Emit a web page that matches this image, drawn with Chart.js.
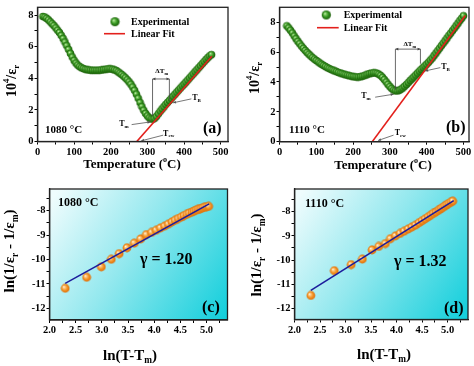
<!DOCTYPE html>
<html>
<head>
<meta charset="utf-8">
<script src="https://cdn.jsdelivr.net/npm/chart.js@4.4.1/dist/chart.umd.min.js"></script>
<style>
  body { margin: 0; background: #fff; }
  #wrap { position: relative; width: 474px; height: 366px; overflow: hidden; }
  canvas { position: absolute; }
</style>
</head>
<body>
<div id="wrap">
  <canvas id="chartA" width="237" height="180" style="left:0;top:0;width:237px;height:180px"></canvas>
  <canvas id="chartB" width="237" height="180" style="left:237px;top:0;width:237px;height:180px"></canvas>
  <canvas id="chartC" width="237" height="186" style="left:0;top:180px;width:237px;height:186px"></canvas>
  <canvas id="chartD" width="237" height="186" style="left:237px;top:180px;width:237px;height:186px"></canvas>
</div>
<script>
// (a) 1080 °C : 10^4/eps_r vs temperature
const tempA = [
  15, 20, 25, 30, 35, 40, 45, 50, 55, 60,
  65, 70, 75, 80, 85, 90, 95, 100, 105, 110,
  115, 120, 125, 130, 135, 140, 145, 150, 155, 160,
  165, 170, 175, 180, 185, 190, 195, 200, 205, 210,
  215, 220, 225, 230, 235, 240, 245, 250, 255, 260,
  265, 270, 275, 280, 285, 290, 295, 300, 305, 310,
  315, 320, 325, 330, 335, 340, 345, 350, 355, 360,
  365, 370, 375, 380, 385, 390, 395, 400, 405, 410,
  415, 420, 425, 430, 435, 440, 445, 450, 455, 460,
  465, 470, 475
];
const invEpsA = [
  7.92, 7.88, 7.80, 7.70, 7.58, 7.46, 7.34, 7.20, 7.05, 6.90,
  6.72, 6.52, 6.30, 6.07, 5.83, 5.58, 5.35, 5.14, 4.97, 4.84,
  4.74, 4.67, 4.62, 4.58, 4.55, 4.53, 4.52, 4.51, 4.51, 4.51,
  4.51, 4.52, 4.53, 4.55, 4.57, 4.59, 4.60, 4.60, 4.58, 4.54,
  4.49, 4.41, 4.33, 4.24, 4.14, 4.03, 3.91, 3.78, 3.63, 3.45,
  3.24, 3.00, 2.74, 2.47, 2.21, 1.98, 1.78, 1.62, 1.50, 1.43,
  1.42, 1.48, 1.60, 1.76, 1.92, 2.06, 2.20, 2.34, 2.47, 2.60,
  2.73, 2.86, 2.99, 3.12, 3.25, 3.38, 3.51, 3.63, 3.76, 3.89,
  4.02, 4.15, 4.28, 4.41, 4.54, 4.67, 4.80, 4.93, 5.06, 5.19,
  5.31, 5.42, 5.50
];
const fitTempA = [271, 476];
const fitInvA = [0, 5.40];

// (b) 1110 °C
const tempB = [
  20, 25, 30, 35, 40, 45, 50, 55, 60, 65,
  70, 75, 80, 85, 90, 95, 100, 105, 110, 115,
  120, 125, 130, 135, 140, 145, 150, 155, 160, 165,
  170, 175, 180, 185, 190, 195, 200, 205, 210, 215,
  220, 225, 230, 235, 240, 245, 250, 255, 260, 265,
  270, 275, 280, 285, 290, 295, 300, 305, 310, 315,
  320, 325, 330, 335, 340, 345, 350, 355, 360, 365,
  370, 375, 380, 385, 390, 395, 400, 405, 410, 415,
  420, 425, 430, 435, 440, 445, 450, 455, 460, 465,
  470, 475, 480, 485, 490, 495, 500
];
const invEpsB = [
  7.76, 7.62, 7.46, 7.28, 7.08, 6.90, 6.72, 6.56, 6.40, 6.25,
  6.11, 5.98, 5.86, 5.74, 5.63, 5.53, 5.44, 5.35, 5.26, 5.18,
  5.10, 5.03, 4.96, 4.90, 4.84, 4.79, 4.74, 4.69, 4.64, 4.60,
  4.56, 4.52, 4.48, 4.45, 4.42, 4.39, 4.36, 4.34, 4.33, 4.33,
  4.35, 4.38, 4.42, 4.47, 4.52, 4.56, 4.59, 4.61, 4.61, 4.58,
  4.52, 4.43, 4.31, 4.16, 4.00, 3.84, 3.69, 3.56, 3.46, 3.41,
  3.40, 3.44, 3.51, 3.60, 3.71, 3.83, 3.96, 4.09, 4.21, 4.33,
  4.46, 4.59, 4.72, 4.84, 4.96, 5.07, 5.19, 5.32, 5.46, 5.60,
  5.76, 5.93, 6.09, 6.26, 6.43, 6.60, 6.76, 6.93, 7.10, 7.26,
  7.43, 7.60, 7.76, 7.93, 8.10, 8.26, 8.43
];
const fitTempB = [252, 505];
const fitInvB = [0, 8.45];

// (c) ln(1/eps_r - 1/eps_m) vs ln(T - Tm), 1080 °C
const lnDtC = [
  2.30, 2.71, 2.99, 3.18, 3.33, 3.48, 3.62, 3.74, 3.85, 3.95,
  4.04, 4.12, 4.20, 4.27, 4.34, 4.40, 4.46, 4.52, 4.57, 4.62,
  4.67, 4.72, 4.76, 4.80, 4.84, 4.88, 4.92, 4.96, 5.00, 5.04
];
const lnEpsC = [
  -11.18, -10.73, -10.30, -9.99, -9.76, -9.52, -9.33, -9.16, -8.98, -8.89,
  -8.80, -8.71, -8.63, -8.55, -8.46, -8.39, -8.32, -8.26, -8.20, -8.15,
  -8.10, -8.06, -8.02, -7.98, -7.95, -7.92, -7.89, -7.86, -7.84, -7.82
];
const fitLnDtC = [2.30, 5.05];
const fitLnEpsC = [-10.98, -7.72];

// (d) 1110 °C
const lnDtD = [
  2.32, 2.78, 3.11, 3.33, 3.52, 3.65, 3.78, 3.88, 3.98, 4.07,
  4.15, 4.23, 4.30, 4.37, 4.44, 4.50, 4.56, 4.62, 4.67, 4.72,
  4.77, 4.82, 4.86, 4.90, 4.94, 4.98, 5.02, 5.06, 5.10
];
const lnEpsD = [
  -11.46, -10.44, -10.19, -9.96, -9.58, -9.44, -9.32, -9.12, -9.00, -8.90,
  -8.81, -8.72, -8.64, -8.56, -8.46, -8.38, -8.30, -8.22, -8.15, -8.08,
  -8.02, -7.95, -7.89, -7.84, -7.78, -7.72, -7.67, -7.62, -7.57
];
const fitLnDtD = [2.32, 5.12];
const fitLnEpsD = [-11.25, -7.55];

// tick positions
const tempTicks = [0, 50, 100, 150, 200, 250, 300, 350, 400, 450, 500];
const invTicks = [0, 1, 2, 3, 4, 5, 6, 7, 8];
const lnXTicks = [2.0, 2.25, 2.5, 2.75, 3.0, 3.25, 3.5, 3.75, 4.0, 4.25, 4.5, 4.75, 5.0, 5.25];
const lnYTicks = [-12, -11.5, -11, -10.5, -10, -9.5, -9, -8.5, -8, -7.5];

const serif = "'Liberation Serif', 'Times New Roman', serif";
const RED = '#e3201c';
const BLUE = '#1c1c9c';

function zip(xs, ys) {
  return xs.map((x, i) => ({ x: x, y: ys[i] }));
}

function makeBall(r, stops) {
  const c = document.createElement('canvas');
  const s = Math.ceil(r * 2) + 1;
  c.width = s; c.height = s;
  const g = c.getContext('2d');
  const m = s / 2;
  const grad = g.createRadialGradient(m - r * 0.35, m - r * 0.35, 0, m, m, r);
  stops.forEach(st => grad.addColorStop(st[0], st[1]));
  g.fillStyle = grad;
  g.beginPath();
  g.arc(m, m, r, 0, Math.PI * 2);
  g.fill();
  return c;
}

const greenStops = [[0, '#eaffe2'], [0.22, '#86cf68'], [0.6, '#349420'], [1, '#1b5c08']];
const orangeStops = [[0, '#fffaf0'], [0.28, '#fcc67e'], [0.62, '#f39222'], [1, '#dc6e0c']];
const greenBall = makeBall(3.8, greenStops);
const greenBallBig = makeBall(4.6, greenStops);
const orangeBall = makeBall(4.4, orangeStops);

// text with sub/superscripts, parts = [[text, 'sub'|'sup'|undefined], ...]
function rich(ctx, parts, x, y, size, opts) {
  opts = opts || {};
  const small = size * 0.62;
  const font = s => 'bold ' + s + 'px ' + serif;
  let w = 0;
  parts.forEach(p => { ctx.font = font(p[1] ? small : size); w += ctx.measureText(p[0]).width; });
  ctx.save();
  ctx.translate(x, y);
  if (opts.rotate) ctx.rotate(-Math.PI / 2);
  let cx = opts.align === 'left' ? 0 : -w / 2;
  ctx.textBaseline = 'middle';
  ctx.textAlign = 'left';
  ctx.fillStyle = '#000';
  parts.forEach(p => {
    ctx.font = font(p[1] ? small : size);
    const dy = p[1] === 'sub' ? size * 0.32 : (p[1] === 'sup' ? -size * 0.36 : 0);
    ctx.fillText(p[0], cx, dy);
    cx += ctx.measureText(p[0]).width;
  });
  ctx.restore();
}

function px(chart, x, y) {
  return [chart.scales.x.getPixelForValue(x), chart.scales.y.getPixelForValue(y)];
}

function seg(ctx, x1, y1, x2, y2, color, width) {
  ctx.save();
  ctx.strokeStyle = color;
  ctx.lineWidth = width;
  ctx.beginPath();
  ctx.moveTo(x1, y1);
  ctx.lineTo(x2, y2);
  ctx.stroke();
  ctx.restore();
}

function head(ctx, x1, y1, x2, y2, color) {
  const ang = Math.atan2(y2 - y1, x2 - x1);
  const L = 3.2;
  ctx.save();
  ctx.fillStyle = color;
  ctx.beginPath();
  ctx.moveTo(x2, y2);
  ctx.lineTo(x2 - L * Math.cos(ang - 0.45), y2 - L * Math.sin(ang - 0.45));
  ctx.lineTo(x2 - L * Math.cos(ang + 0.45), y2 - L * Math.sin(ang + 0.45));
  ctx.closePath();
  ctx.fill();
  ctx.restore();
}

// arrow in data coordinates
function arrow(chart, x1, y1, x2, y2) {
  const a = px(chart, x1, y1), b = px(chart, x2, y2);
  seg(chart.ctx, a[0], a[1], b[0], b[1], '#555', 0.8);
  head(chart.ctx, a[0], a[1], b[0], b[1], '#555');
}

function bracket(chart, xl, yl, xr, yr, ytop) {
  const ctx = chart.ctx;
  const l0 = px(chart, xl, yl), l1 = px(chart, xl, ytop);
  const r0 = px(chart, xr, yr), r1 = px(chart, xr, ytop);
  seg(ctx, l0[0], l0[1], l1[0], l1[1], '#444', 0.8);
  seg(ctx, r0[0], r0[1], r1[0], r1[1], '#444', 0.8);
  seg(ctx, l1[0], l1[1], r1[0], r1[1], '#444', 0.8);
  head(ctx, r1[0], r1[1], l1[0], l1[1], '#444');
  head(ctx, l1[0], l1[1], r1[0], r1[1], '#444');
}

function tlabel(chart, x, y, parts, size) {
  const p = px(chart, x, y);
  rich(chart.ctx, parts, p[0], p[1], size);
}

function frame(ctx, a) {
  ctx.save();
  ctx.strokeStyle = '#222';
  ctx.lineWidth = 1.3;
  ctx.strokeRect(a.left, a.top, a.right - a.left, a.bottom - a.top);
  ctx.restore();
}

function tickFont() {
  return { family: serif, weight: 'bold', size: 10.5 };
}

function axis(min, max, ticks, fmt, fitSize, isX) {
  return {
    type: 'linear',
    min: min,
    max: max,
    afterBuildTicks: s => { s.ticks = ticks.map(v => ({ value: v })); },
    afterFit: s => { if (isX) s.height = fitSize; else s.width = fitSize; },
    ticks: { color: '#000', font: tickFont(), padding: 1, maxRotation: 0, autoSkip: false, callback: fmt },
    grid: { drawOnChartArea: false, drawTicks: true, tickLength: 3, color: '#000', lineWidth: 1 },
    border: { color: '#222', width: 1.3 }
  };
}

const fmtTemp = v => (v % 100 === 0 ? String(v) : '');
const fmtInv = v => (v % 2 === 0 ? String(v) : '');
const fmtLnX = v => (Math.abs(v * 2 - Math.round(v * 2)) < 1e-6 ? v.toFixed(1) : '');
const fmtLnY = v => (Number.isInteger(v) ? String(v) : '');

function makePanel(id, cfg) {
  return new Chart(document.getElementById(id), {
    type: 'scatter',
    data: {
      datasets: [
        {
          label: 'Linear Fit',
          data: zip(cfg.fitX, cfg.fitY),
          showLine: true,
          borderColor: cfg.lineColor,
          borderWidth: 1.6,
          pointRadius: 0,
          order: 0
        },
        {
          label: 'Experimental',
          data: zip(cfg.x, cfg.y),
          pointStyle: cfg.ball,
          pointRadius: 4,
          order: 1
        }
      ]
    },
    options: {
      responsive: false,
      animation: false,
      events: [],
      layout: { autoPadding: false, padding: cfg.padding },
      plugins: { legend: { display: false }, tooltip: { enabled: false } },
      scales: {
        x: axis(cfg.xmin, cfg.xmax, cfg.xticks, cfg.xfmt, cfg.xh, true),
        y: axis(cfg.ymin, cfg.ymax, cfg.yticks, cfg.yfmt, cfg.yw, false)
      }
    },
    plugins: [{
      id: 'deco',
      beforeDraw(chart) {
        if (!cfg.gradient) return;
        const a = chart.chartArea, ctx = chart.ctx;
        const g = ctx.createLinearGradient(a.left, a.top + (a.bottom - a.top) * 0.1, a.right, a.bottom);
        g.addColorStop(0, '#effcfd');
        g.addColorStop(0.45, '#92e8ee');
        g.addColorStop(1, '#10cedb');
        ctx.save();
        ctx.fillStyle = g;
        ctx.fillRect(a.left, a.top, a.right - a.left, a.bottom - a.top);
        ctx.restore();
      },
      afterDraw(chart) {
        frame(chart.ctx, chart.chartArea);
        cfg.deco(chart, chart.ctx);
      }
    }]
  });
}

makePanel('chartA', {
  x: tempA, y: invEpsA, fitX: fitTempA, fitY: fitInvA,
  ball: greenBall, lineColor: RED,
  xmin: 0, xmax: 520, ymin: 0, ymax: 8.5,
  xticks: tempTicks, yticks: invTicks, xfmt: fmtTemp, yfmt: fmtInv,
  padding: { left: 0, right: 9, top: 3, bottom: 0 }, xh: 38.5, yw: 37.5,
  deco(chart, ctx) {
    ctx.drawImage(greenBallBig, 115 - greenBallBig.width / 2, 21.7 - greenBallBig.height / 2);
    rich(ctx, [['Experimental']], 131, 22, 10, { align: 'left' });
    seg(ctx, 104, 33.7, 125, 33.7, RED, 1.6);
    rich(ctx, [['Linear Fit']], 131, 34, 10, { align: 'left' });
    bracket(chart, 314, 1.62, 360, 2.65, 3.96);
    tlabel(chart, 339, 4.45, [['\u0394T'], ['m', 'sub']], 7);
    arrow(chart, 257, 1.07, 308, 1.24);
    tlabel(chart, 236, 1.11, [['T'], ['m', 'sub']], 8);
    arrow(chart, 343, 0.40, 283, 0.04);
    tlabel(chart, 358, 0.50, [['T'], ['cw', 'sub']], 8);
    arrow(chart, 420, 2.70, 370, 2.45);
    tlabel(chart, 434, 2.75, [['T'], ['B', 'sub']], 8);
    rich(ctx, [['1080 \u00b0C']], 45, 130, 11, { align: 'left' });
    rich(ctx, [['(a)']], 203, 129, 16, { align: 'left' });
    rich(ctx, [['Temperature ('], ['o', 'sup'], ['C)']], 132, 165, 13);
    rich(ctx, [['10'], ['4', 'sup'], ['/\u03b5'], ['r', 'sub']], 12, 81, 14, { rotate: true });
  }
});

makePanel('chartB', {
  x: tempB, y: invEpsB, fitX: fitTempB, fitY: fitInvB,
  ball: greenBall, lineColor: RED,
  xmin: 0, xmax: 515, ymin: 0, ymax: 9,
  xticks: tempTicks, yticks: invTicks, xfmt: fmtTemp, yfmt: fmtInv,
  padding: { left: 0, right: 5, top: 4, bottom: 0 }, xh: 38.3, yw: 42.5,
  deco(chart, ctx) {
    ctx.drawImage(greenBallBig, 89.3 - greenBallBig.width / 2, 15 - greenBallBig.height / 2);
    rich(ctx, [['Experimental']], 106.7, 15, 10, { align: 'left' });
    seg(ctx, 80, 27.7, 101.7, 27.7, RED, 1.6);
    rich(ctx, [['Linear Fit']], 106.7, 28, 10, { align: 'left' });
    bracket(chart, 315, 3.48, 383, 5.22, 6.2);
    tlabel(chart, 354, 6.52, [['\u0394T'], ['m', 'sub']], 7);
    arrow(chart, 260, 2.98, 310, 3.18);
    tlabel(chart, 235, 3.05, [['T'], ['m', 'sub']], 8);
    arrow(chart, 310, 0.44, 268, 0.08);
    tlabel(chart, 328, 0.59, [['T'], ['cw', 'sub']], 8);
    arrow(chart, 437, 4.96, 396, 4.74);
    tlabel(chart, 451, 5.0, [['T'], ['B', 'sub']], 8);
    rich(ctx, [['1110 \u00b0C']], 52, 130, 11, { align: 'left' });
    rich(ctx, [['(b)']], 209, 128, 16, { align: 'left' });
    rich(ctx, [['Temperature ('], ['o', 'sup'], ['C)']], 146, 166, 13);
    rich(ctx, [['10'], ['4', 'sup'], ['/\u03b5'], ['r', 'sub']], 18, 78, 14, { rotate: true });
  }
});

makePanel('chartC', {
  x: lnDtC, y: lnEpsC, fitX: fitLnDtC, fitY: fitLnEpsC,
  ball: orangeBall, lineColor: BLUE, gradient: true,
  xmin: 2.0, xmax: 5.4, ymin: -12.48, ymax: -7.11,
  xticks: lnXTicks, yticks: lnYTicks, xfmt: fmtLnX, yfmt: fmtLnY,
  padding: { left: 0, right: 9.5, top: 9, bottom: 0 }, xh: 46, yw: 49.5,
  deco(chart, ctx) {
    rich(ctx, [['1080 \u00b0C']], 58, 23, 12, { align: 'left' });
    rich(ctx, [['(c)']], 202, 128, 16, { align: 'left' });
    rich(ctx, [['\u03b3 = 1.20']], 140, 80, 16, { align: 'left' });
    rich(ctx, [['ln(T-T'], ['m', 'sub'], [')']], 130, 176, 15);
    rich(ctx, [['ln(1/\u03b5'], ['r', 'sub'], [' - 1/\u03b5'], ['m', 'sub'], [')']], 10.5, 71, 15, { rotate: true });
  }
});

makePanel('chartD', {
  x: lnDtD, y: lnEpsD, fitX: fitLnDtD, fitY: fitLnEpsD,
  ball: orangeBall, lineColor: BLUE, gradient: true,
  xmin: 2.0, xmax: 5.4, ymin: -12.45, ymax: -7.07,
  xticks: lnXTicks, yticks: lnYTicks, xfmt: fmtLnX, yfmt: fmtLnY,
  padding: { left: 0, right: 6, top: 9, bottom: 0 }, xh: 46.5, yw: 57.5,
  deco(chart, ctx) {
    rich(ctx, [['1110 \u00b0C']], 68, 24, 12, { align: 'left' });
    rich(ctx, [['(d)']], 207, 129, 16, { align: 'left' });
    rich(ctx, [['\u03b3 = 1.32']], 157, 82, 16, { align: 'left' });
    rich(ctx, [['ln(T-T'], ['m', 'sub'], [')']], 147, 175, 15);
    rich(ctx, [['ln(1/\u03b5'], ['r', 'sub'], [' - 1/\u03b5'], ['m', 'sub'], [')']], 20.5, 75, 15, { rotate: true });
  }
});
</script>
</body>
</html>
